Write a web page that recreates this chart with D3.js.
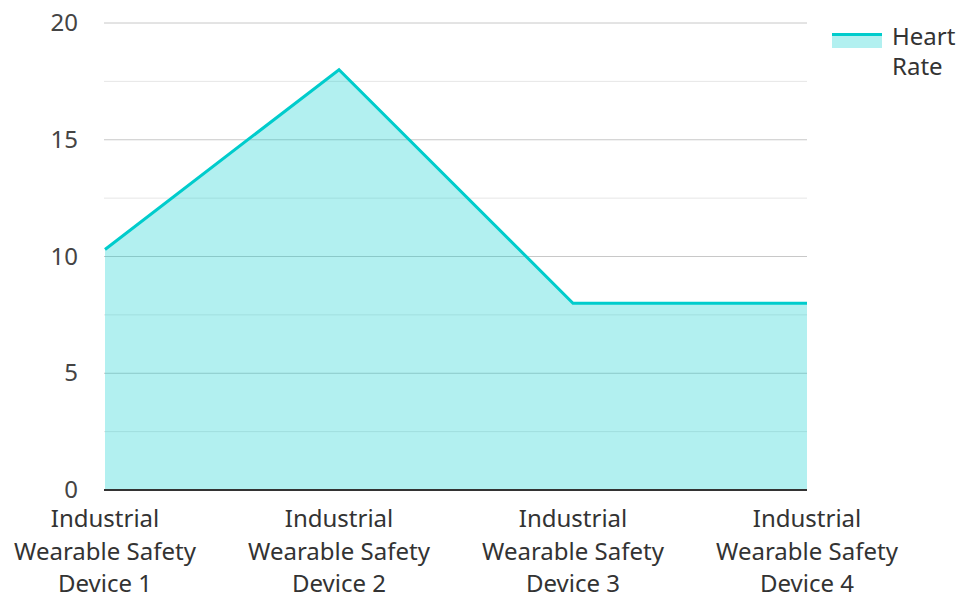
<!DOCTYPE html>
<html>
<head>
<meta charset="utf-8">
<script src="https://cdn.jsdelivr.net/npm/d3@7"></script>
<style>
  body { margin: 0; background: #fff; }
  text { font-family: "Noto Sans", "Open Sans", sans-serif; }
</style>
</head>
<body>
<div id="chart"></div>
<script>
// Data
var categories = ["Industrial Wearable Safety Device 1", "Industrial Wearable Safety Device 2",
                  "Industrial Wearable Safety Device 3", "Industrial Wearable Safety Device 4"];
var heartRate = [10.3, 18, 8, 8];
var yTicks = [0, 5, 10, 15, 20];
var seriesName = "Heart Rate";

var width = 961, height = 594;
var margin = { top: 23, right: 154, bottom: 104, left: 105 };
var innerW = width - margin.left - margin.right,
    innerH = height - margin.top - margin.bottom;

var svg = d3.select("#chart").append("svg")
    .attr("width", width)
    .attr("height", height);

var g = svg.append("g")
    .attr("transform", "translate(" + margin.left + "," + margin.top + ")");

var x = d3.scalePoint()
    .domain(categories)
    .range([0, innerW]);

var y = d3.scaleLinear()
    .domain([0, 20])
    .range([innerH, 0]);

// minor grid lines every 2.5
g.append("g")
    .selectAll("line")
    .data(d3.range(2.5, 20, 5))
    .enter().append("line")
    .attr("x1", -1).attr("x2", innerW)
    .attr("y1", function (d) { return y(d); })
    .attr("y2", function (d) { return y(d); })
    .attr("stroke", "#e6e6e6")
    .attr("stroke-width", 1);

// major grid lines
g.append("g")
    .selectAll("line")
    .data(yTicks.slice(1))
    .enter().append("line")
    .attr("x1", -1).attr("x2", innerW)
    .attr("y1", function (d) { return y(d); })
    .attr("y2", function (d) { return y(d); })
    .attr("stroke", "#c8c8c8")
    .attr("stroke-width", 1);

var area = d3.area()
    .x(function (d, i) { return x(categories[i]); })
    .y0(innerH)
    .y1(function (d) { return y(d); });

var line = d3.line()
    .x(function (d, i) { return x(categories[i]); })
    .y(function (d) { return y(d); });

g.append("path")
    .datum(heartRate)
    .attr("d", area)
    .attr("fill", "rgba(0, 204, 204, 0.3)");

g.append("path")
    .datum(heartRate)
    .attr("d", line)
    .attr("fill", "none")
    .attr("stroke", "#00cccc")
    .attr("stroke-width", 3);

// y axis labels
var yAxis = g.append("g")
    .call(d3.axisLeft(y).tickValues(yTicks).tickSize(0).tickPadding(27));
yAxis.select(".domain").remove();
yAxis.selectAll("text")
    .attr("font-size", 24)
    .attr("fill", "#444")
    .style("font-family", "'Noto Sans', sans-serif");

// x axis line
g.append("line")
    .attr("x1", -1).attr("x2", innerW)
    .attr("y1", innerH).attr("y2", innerH)
    .attr("stroke", "#333")
    .attr("stroke-width", 2);

// x labels, wrapped into three lines
var xLabels = g.append("g")
    .selectAll("text")
    .data(categories)
    .enter().append("text")
    .attr("text-anchor", "middle")
    .attr("font-size", 24)
    .attr("fill", "#333")
    .attr("transform", function (d) { return "translate(" + x(d) + "," + (innerH + 37) + ")"; });

xLabels.each(function (d) {
    var words = d.split(" ");
    var lines = [words[0], words.slice(1, 3).join(" "), words.slice(3).join(" ")];
    var t = d3.select(this);
    lines.forEach(function (l, i) {
        t.append("tspan").attr("x", 0).attr("y", i * 32.5).text(l);
    });
});

// legend
var legend = svg.append("g").attr("transform", "translate(832,33)");
legend.append("rect")
    .attr("width", 50).attr("height", 15)
    .attr("fill", "rgba(0, 204, 204, 0.3)");
legend.append("line")
    .attr("x1", 0).attr("x2", 50)
    .attr("y1", 1.5).attr("y2", 1.5)
    .attr("stroke", "#00cccc").attr("stroke-width", 3);
var lt = legend.append("text")
    .attr("font-size", 24)
    .attr("fill", "#333");
lt.append("tspan").attr("x", 60).attr("y", 12).text("Heart");
lt.append("tspan").attr("x", 60).attr("y", 42).text("Rate");
</script>
</body>
</html>
